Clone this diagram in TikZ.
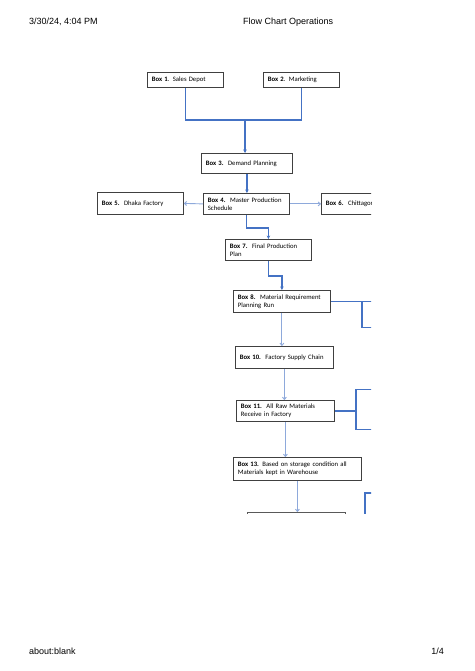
\documentclass[tikz,border=0pt]{standalone}
\usepackage{fontspec}
\setmainfont{Liberation Sans}
\newfontfamily\boxfam{Carlito}
\usetikzlibrary{arrows.meta,calc}
\definecolor{thickblue}{HTML}{4472C4}
\definecolor{thinblue}{HTML}{8EA9DB}
\definecolor{boxline}{HTML}{404040}
\definecolor{cutline}{HTML}{595959}
\begin{document}
\begin{tikzpicture}[x=1pt,y=-1pt,
  box/.style={draw=boxline, line width=0.8pt, fill=white, inner xsep=4.5pt, inner ysep=0pt,
    anchor=north west, align=left, font=\boxfam\fontsize{6.7}{8}\selectfont},
  thickc/.style={draw=thickblue, line width=1.7pt},
  thinc/.style={draw=thinblue, line width=0.9pt},
  tipthick/.style={-{Stealth[length=3.5pt,width=3.5pt]}},
  tipthin/.style={-{Straight Barb[length=2.2pt,width=4pt]}},
  hdr/.style={anchor=base west, inner sep=0pt, font=\fontsize{9}{11}\selectfont}]
\fill[white] (0,0) rectangle (474,671);
\useasboundingbox (0,0) rectangle (474,671);
% header and footer
\node[hdr] (date) at (29,24.5) {3/30/24, 4:04 PM};
\node[hdr] (title) at (243,24.5) {Flow Chart Operations};
\node[hdr] (url) at (29,654.5) {about:blank};
\node[hdr, anchor=base east] (page) at (444,654.5) {1/4};
\begin{scope}
\clip (0,0) rectangle (371,513);
% boxes
\node[box, minimum width=76pt, minimum height=15pt, text width=67pt] (b1) at (147,72) {\textbf{Box 1}. Sales Depot};
\node[box, minimum width=76pt, minimum height=15pt, text width=67pt] (b2) at (263,72) {\textbf{Box 2}. Marketing};
\node[box, minimum width=91pt, minimum height=20pt, text width=82pt] (b3) at (201,153) {\textbf{Box 3.}\ \ Demand Planning};
\node[box, minimum width=86pt, minimum height=21pt, text width=77pt] (b4) at (203,193) {\textbf{Box 4.}\ \ Master Production\\Schedule};
\node[box, minimum width=86pt, minimum height=22pt, text width=77pt] (b5) at (97,192) {\textbf{Box 5.}\ \ Dhaka Factory};
\node[box, minimum width=86pt, minimum height=21pt, text width=77pt] (b6) at (321,193) {\textbf{Box 6.}\ \ Chittagong};
\node[box, minimum width=86pt, minimum height=21pt, text width=77pt] (b7) at (225,239) {\textbf{Box 7.}\ \ Final Production\\Plan};
\node[box, minimum width=97pt, minimum height=22pt, text width=88pt] (b8) at (233,290) {\textbf{Box 8.}\ \ Material Requirement\\Planning Run};
\node[box, minimum width=98pt, minimum height=22pt, text width=89pt] (b10) at (235,346) {\textbf{Box 10.}\ \ Factory Supply Chain};
\node[box, minimum width=98pt, minimum height=21pt, text width=89pt] (b11) at (236,400) {\textbf{Box 11.}\ \ All Raw Materials\\Receive in Factory};
\node[box, minimum width=128pt, minimum height=23pt, text width=119pt] (b13) at (233,457) {\textbf{Box 13.} Based on storage condition all\\Materials kept in Warehouse};
\node[box, draw=cutline, line width=1.3pt, minimum width=98pt, minimum height=30pt, text width=89pt] (b14) at (247,512) {};
% thick connectors
\coordinate (j1) at (245,120);
\draw[thickc] (b1.south) |- (j1) -| (b2.south);
\draw[thickc, tipthick] (j1) -- (j1 |- b3.north);
\draw[thickc, tipthick] (b3.south) -- (b3.south |- b4.north);
\draw[thickc, tipthick] (b4.south) -- ++(0,13) -| (b7.north);
\draw[thickc, tipthick] (b7.south) -- ++(0,15) -| (b8.north);
% thin connectors
\draw[thinc, tipthin] (b4.west) -- (b5.east);
\draw[thinc, tipthin] (b4.east) -- (b6.west);
\draw[thinc, tipthin] (b8.south) -- (b8.south |- b10.north);
\draw[thinc, tipthin] (b10.south) -- (b10.south |- b11.north);
\draw[thinc, tipthin] (b11.south) -- (b11.south |- b13.north);
\draw[thinc, tipthin] (b13.south) -- (b13.south |- b14.north);
% brackets to the right (cut at page edge)
\draw[thickc] (b8.east) -- ++(50,0);
\coordinate (k1) at ($(b8.east)+(31,0)$);
\draw[thickc] (k1) -- ++(0,26) -- ++(20,0);
\draw[thickc] (b11.east) -- ++(21,0) coordinate (k2);
\draw[thickc] ($(k2)+(20,-21.5)$) -- ++(-20,0) -- ++(0,40) -- ++(20,0);
\coordinate (k3) at (365,493);
\draw[thickc] (k3) ++(0,30) -- (k3) -- ++(20,0);
\end{scope}
\end{tikzpicture}
\end{document}
